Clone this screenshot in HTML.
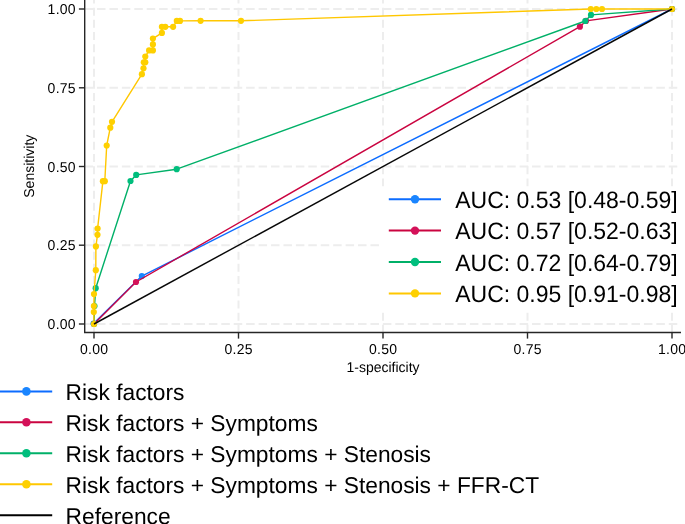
<!DOCTYPE html>
<html><head><meta charset="utf-8"><style>
html,body{margin:0;padding:0;background:#fff;}
body{width:685px;height:524px;overflow:hidden;}
svg{display:block;}
text{font-family:"Liberation Sans",Arial,sans-serif;fill:#000;text-rendering:geometricPrecision;font-variant-ligatures:none;font-kerning:none;}
.ax{font-size:14px;}
.tk{letter-spacing:0.25px;}
.lg{font-size:22.75px;}
.lg1{font-size:23px;}
</style></head><body>
<svg width="685" height="524" viewBox="0 0 685 524">
<rect width="685" height="524" fill="#fff"/>
<line x1="94.0" y1="332.45" x2="94.0" y2="-10" stroke="#ededed" stroke-width="2" stroke-dasharray="8 4.2" stroke-dashoffset="0.4"/>
<line x1="238.5" y1="332.45" x2="238.5" y2="-10" stroke="#ededed" stroke-width="2" stroke-dasharray="8 4.2" stroke-dashoffset="0.4"/>
<line x1="383.0" y1="332.45" x2="383.0" y2="-10" stroke="#ededed" stroke-width="2" stroke-dasharray="8 4.2" stroke-dashoffset="0.4"/>
<line x1="527.5" y1="332.45" x2="527.5" y2="-10" stroke="#ededed" stroke-width="2" stroke-dasharray="8 4.2" stroke-dashoffset="0.4"/>
<line x1="672.0" y1="332.45" x2="672.0" y2="-10" stroke="#ededed" stroke-width="2" stroke-dasharray="8 4.2" stroke-dashoffset="0.4"/>
<line x1="84.57" y1="324.00" x2="681" y2="324.00" stroke="#ededed" stroke-width="2" stroke-dasharray="8.5 3.93"/>
<line x1="84.57" y1="245.25" x2="681" y2="245.25" stroke="#ededed" stroke-width="2" stroke-dasharray="8.5 3.93"/>
<line x1="84.57" y1="166.50" x2="681" y2="166.50" stroke="#ededed" stroke-width="2" stroke-dasharray="8.5 3.93"/>
<line x1="84.57" y1="87.75" x2="681" y2="87.75" stroke="#ededed" stroke-width="2" stroke-dasharray="8.5 3.93"/>
<line x1="84.57" y1="9.00" x2="681" y2="9.00" stroke="#ededed" stroke-width="2" stroke-dasharray="8.5 3.93"/>
<line x1="84.7" y1="-2" x2="84.7" y2="333.05" stroke="#262626" stroke-width="1.4"/>
<line x1="84.0" y1="332.45" x2="681" y2="332.45" stroke="#262626" stroke-width="1.45"/>
<line x1="78.9" y1="324.0" x2="84.7" y2="324.0" stroke="#262626" stroke-width="1.4"/>
<text transform="translate(75.85,329.20) scale(1,1.02)" class="ax tk" text-anchor="end">0.00</text>
<line x1="94.0" y1="332.45" x2="94.0" y2="338.6" stroke="#262626" stroke-width="1.4"/>
<text transform="translate(94.12,354.00) scale(1,1.02)" class="ax tk" text-anchor="middle">0.00</text>
<line x1="78.9" y1="245.2" x2="84.7" y2="245.2" stroke="#262626" stroke-width="1.4"/>
<text transform="translate(75.85,250.45) scale(1,1.02)" class="ax tk" text-anchor="end">0.25</text>
<line x1="238.5" y1="332.45" x2="238.5" y2="338.6" stroke="#262626" stroke-width="1.4"/>
<text transform="translate(238.62,354.00) scale(1,1.02)" class="ax tk" text-anchor="middle">0.25</text>
<line x1="78.9" y1="166.5" x2="84.7" y2="166.5" stroke="#262626" stroke-width="1.4"/>
<text transform="translate(75.85,171.70) scale(1,1.02)" class="ax tk" text-anchor="end">0.50</text>
<line x1="383.0" y1="332.45" x2="383.0" y2="338.6" stroke="#262626" stroke-width="1.4"/>
<text transform="translate(383.12,354.00) scale(1,1.02)" class="ax tk" text-anchor="middle">0.50</text>
<line x1="78.9" y1="87.8" x2="84.7" y2="87.8" stroke="#262626" stroke-width="1.4"/>
<text transform="translate(75.85,92.95) scale(1,1.02)" class="ax tk" text-anchor="end">0.75</text>
<line x1="527.5" y1="332.45" x2="527.5" y2="338.6" stroke="#262626" stroke-width="1.4"/>
<text transform="translate(527.62,354.00) scale(1,1.02)" class="ax tk" text-anchor="middle">0.75</text>
<line x1="78.9" y1="9.0" x2="84.7" y2="9.0" stroke="#262626" stroke-width="1.4"/>
<text transform="translate(75.85,14.20) scale(1,1.02)" class="ax tk" text-anchor="end">1.00</text>
<line x1="672.0" y1="332.45" x2="672.0" y2="338.6" stroke="#262626" stroke-width="1.4"/>
<text transform="translate(672.12,354.00) scale(1,1.02)" class="ax tk" text-anchor="middle">1.00</text>
<text transform="translate(383.00,371.80) scale(1,1.02)" class="ax" text-anchor="middle">1-specificity</text>
<text transform="translate(33.6,166.2) rotate(-90) scale(1,1.02)" text-anchor="middle" class="ax">Sensitivity</text>
<polyline points="93.6,323.6 141.8,276.1 672.0,9.0" fill="none" stroke="#0C6CFF" stroke-width="1.4" stroke-linejoin="round"/><circle cx="93.6" cy="323.6" r="3.1" fill="#1A85FF"/><circle cx="141.8" cy="276.1" r="3.1" fill="#1A85FF"/><circle cx="672.0" cy="9.0" r="3.1" fill="#1A85FF"/>
<polyline points="94.0,324.0 136.0,282.0 579.9,26.7 586.0,20.9 672.0,9.0" fill="none" stroke="#CA0440" stroke-width="1.4" stroke-linejoin="round"/><circle cx="94.0" cy="324.0" r="3.1" fill="#D41159"/><circle cx="136.0" cy="282.0" r="3.1" fill="#D41159"/><circle cx="579.9" cy="26.7" r="3.1" fill="#D41159"/><circle cx="586.0" cy="20.9" r="3.1" fill="#D41159"/><circle cx="672.0" cy="9.0" r="3.1" fill="#D41159"/>
<polyline points="94.0,324.0 94.5,306.0 95.7,288.2 130.5,181.0 136.2,174.9 176.7,169.2 585.3,21.0 591.0,14.9 672.0,9.0" fill="none" stroke="#00B068" stroke-width="1.4" stroke-linejoin="round"/><circle cx="94.0" cy="324.0" r="3.1" fill="#00BE7D"/><circle cx="94.5" cy="306.0" r="3.1" fill="#00BE7D"/><circle cx="95.7" cy="288.2" r="3.1" fill="#00BE7D"/><circle cx="130.5" cy="181.0" r="3.1" fill="#00BE7D"/><circle cx="136.2" cy="174.9" r="3.1" fill="#00BE7D"/><circle cx="176.7" cy="169.2" r="3.1" fill="#00BE7D"/><circle cx="585.3" cy="21.0" r="3.1" fill="#00BE7D"/><circle cx="591.0" cy="14.9" r="3.1" fill="#00BE7D"/><circle cx="672.0" cy="9.0" r="3.1" fill="#00BE7D"/>
<polyline points="94.0,324.0 93.8,312.0 93.9,306.0 94.0,294.0 95.8,270.2 95.9,246.4 97.5,234.8 97.6,228.6 102.9,181.2 104.8,181.2 106.7,145.5 110.3,127.7 112.0,121.8 141.9,74.2 143.5,68.3 143.8,62.3 145.3,62.3 145.3,56.5 149.1,50.4 152.9,50.4 152.9,44.4 152.9,38.6 161.9,32.9 161.9,26.8 165.3,26.8 173.1,26.8 176.8,20.9 180.0,20.9 200.6,20.8 241.0,20.8 590.8,9.0 596.3,9.0 602.0,9.0 672.0,9.0" fill="none" stroke="#FFC700" stroke-width="1.4" stroke-linejoin="round"/><circle cx="94.0" cy="324.0" r="3.1" fill="#FED000"/><circle cx="93.8" cy="312.0" r="3.1" fill="#FED000"/><circle cx="93.9" cy="306.0" r="3.1" fill="#FED000"/><circle cx="94.0" cy="294.0" r="3.1" fill="#FED000"/><circle cx="95.8" cy="270.2" r="3.1" fill="#FED000"/><circle cx="95.9" cy="246.4" r="3.1" fill="#FED000"/><circle cx="97.5" cy="234.8" r="3.1" fill="#FED000"/><circle cx="97.6" cy="228.6" r="3.1" fill="#FED000"/><circle cx="102.9" cy="181.2" r="3.1" fill="#FED000"/><circle cx="104.8" cy="181.2" r="3.1" fill="#FED000"/><circle cx="106.7" cy="145.5" r="3.1" fill="#FED000"/><circle cx="110.3" cy="127.7" r="3.1" fill="#FED000"/><circle cx="112.0" cy="121.8" r="3.1" fill="#FED000"/><circle cx="141.9" cy="74.2" r="3.1" fill="#FED000"/><circle cx="143.5" cy="68.3" r="3.1" fill="#FED000"/><circle cx="143.8" cy="62.3" r="3.1" fill="#FED000"/><circle cx="145.3" cy="62.3" r="3.1" fill="#FED000"/><circle cx="145.3" cy="56.5" r="3.1" fill="#FED000"/><circle cx="149.1" cy="50.4" r="3.1" fill="#FED000"/><circle cx="152.9" cy="50.4" r="3.1" fill="#FED000"/><circle cx="152.9" cy="44.4" r="3.1" fill="#FED000"/><circle cx="152.9" cy="38.6" r="3.1" fill="#FED000"/><circle cx="161.9" cy="32.9" r="3.1" fill="#FED000"/><circle cx="161.9" cy="26.8" r="3.1" fill="#FED000"/><circle cx="165.3" cy="26.8" r="3.1" fill="#FED000"/><circle cx="173.1" cy="26.8" r="3.1" fill="#FED000"/><circle cx="176.8" cy="20.9" r="3.1" fill="#FED000"/><circle cx="180.0" cy="20.9" r="3.1" fill="#FED000"/><circle cx="200.6" cy="20.8" r="3.1" fill="#FED000"/><circle cx="241.0" cy="20.8" r="3.1" fill="#FED000"/><circle cx="590.8" cy="9.0" r="3.1" fill="#FED000"/><circle cx="596.3" cy="9.0" r="3.1" fill="#FED000"/><circle cx="602.0" cy="9.0" r="3.1" fill="#FED000"/><circle cx="672.0" cy="9.0" r="3.1" fill="#FED000"/>
<line x1="94.0" y1="324.0" x2="672.0" y2="9.0" stroke="#080808" stroke-width="1.45"/>
<rect x="380" y="186.5" width="310" height="124" fill="#fff"/>
<line x1="388.8" y1="199.2" x2="441" y2="199.2" stroke="#0C6CFF" stroke-width="2"/>
<circle cx="415" cy="199.2" r="4.2" fill="#1A85FF"/>
<text transform="translate(455.20,207.70) scale(1,1.025)" class="lg1">AUC: 0.53 [0.48-0.59]</text>
<line x1="388.8" y1="230.6" x2="441" y2="230.6" stroke="#CA0440" stroke-width="2"/>
<circle cx="415" cy="230.6" r="4.2" fill="#D41159"/>
<text transform="translate(455.20,239.10) scale(1,1.025)" class="lg1">AUC: 0.57 [0.52-0.63]</text>
<line x1="388.8" y1="262.0" x2="441" y2="262.0" stroke="#00B068" stroke-width="2"/>
<circle cx="415" cy="262.0" r="4.2" fill="#00BE7D"/>
<text transform="translate(455.20,270.50) scale(1,1.025)" class="lg1">AUC: 0.72 [0.64-0.79]</text>
<line x1="388.8" y1="293.4" x2="441" y2="293.4" stroke="#FFC700" stroke-width="2"/>
<circle cx="415" cy="293.4" r="4.2" fill="#FED000"/>
<text transform="translate(455.20,301.90) scale(1,1.025)" class="lg1">AUC: 0.95 [0.91-0.98]</text>
<line x1="-2" y1="391.4" x2="52.2" y2="391.4" stroke="#0C6CFF" stroke-width="2"/>
<circle cx="26.4" cy="391.4" r="4.3" fill="#1A85FF"/>
<text transform="translate(65.60,399.80) scale(1,1.0)" class="lg">Risk factors</text>
<line x1="-2" y1="422.3" x2="52.2" y2="422.3" stroke="#CA0440" stroke-width="2"/>
<circle cx="26.4" cy="422.3" r="4.3" fill="#D41159"/>
<text transform="translate(65.60,430.75) scale(1,1.0)" class="lg">Risk factors + Symptoms</text>
<line x1="-2" y1="453.3" x2="52.2" y2="453.3" stroke="#00B068" stroke-width="2"/>
<circle cx="26.4" cy="453.3" r="4.3" fill="#00BE7D"/>
<text transform="translate(65.60,461.70) scale(1,1.0)" class="lg">Risk factors + Symptoms + Stenosis</text>
<line x1="-2" y1="484.2" x2="52.2" y2="484.2" stroke="#FFC700" stroke-width="2"/>
<circle cx="26.4" cy="484.2" r="4.3" fill="#FED000"/>
<text transform="translate(65.60,492.65) scale(1,1.0)" class="lg">Risk factors + Symptoms + Stenosis + FFR-CT</text>
<line x1="-2" y1="515.2" x2="52.2" y2="515.2" stroke="#000000" stroke-width="2"/>
<text transform="translate(65.60,523.60) scale(1,1.0)" class="lg">Reference</text>
</svg>
</body></html>
